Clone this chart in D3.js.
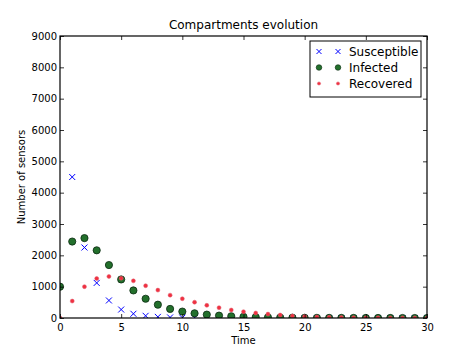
<!DOCTYPE html>
<html><head><meta charset="utf-8">
<script src="https://cdn.jsdelivr.net/npm/d3@7/dist/d3.min.js"></script>
<style>body{margin:0;background:#fff}svg{display:block}text{font-family:"DejaVu Sans",sans-serif}</style>
</head><body>
<svg id="c" width="474" height="355"></svg>
<script>
const time = d3.range(0, 31);
const susceptible = [null,4500,2250,1120,560,270,135,70,35,18,9,5,2,1,1,0,0,0,0,0,0,0,0,0,0,0,0,0,0,0,0];
const infected = [1000,2440,2550,2160,1690,1230,880,615,425,290,205,150,108,76,56,40,28,20,14,10,7,5,4,3,2,1,1,1,0,0,0];
const recovered = [0,540,1000,1260,1325,1270,1185,1030,890,730,615,505,405,330,255,200,160,125,95,65,45,32,22,15,10,7,5,3,2,1,1];
const xTicks = [0,5,10,15,20,25,30];
const yTicks = [0,1000,2000,3000,4000,5000,6000,7000,8000,9000];
const legendLabels = ["Susceptible","Infected","Recovered"];

const svg = d3.select("#c");
const L=60, R=427, T=36, B=318;
const x = d3.scaleLinear().domain([0,30]).range([L,R]);
const y = d3.scaleLinear().domain([0,9000]).range([B,T]);

svg.append("defs").append("clipPath").attr("id","clip")
  .append("rect").attr("x",L).attr("y",T).attr("width",R-L).attr("height",B-T);

const g = svg.append("g").attr("clip-path","url(#clip)");

function cross(sel, size){
  sel.append("path").attr("d",`M${-size},${-size}L${size},${size}M${-size},${size}L${size},${-size}`)
    .attr("stroke","#0000ff").attr("stroke-width",1).attr("fill","none");
}
// Susceptible
time.forEach((t,i)=>{
  if (susceptible[i]==null) return;
  const m = g.append("g").attr("transform",`translate(${x(t)},${y(susceptible[i])})`);
  cross(m,3);
});
// Infected
g.selectAll("circle.i").data(time).enter().append("circle")
  .attr("cx",t=>x(t)).attr("cy",(t,i)=>y(infected[i])).attr("r",3.6)
  .attr("fill","#23702c").attr("stroke","#0a2a10").attr("stroke-width",0.8);
// Recovered
g.selectAll("circle.r").data(time).enter().append("circle")
  .attr("cx",t=>x(t)).attr("cy",(t,i)=>y(recovered[i])).attr("r",2)
  .attr("fill","#f03040").attr("stroke","#e06070").attr("stroke-width",0.5);

// frame
svg.append("rect").attr("x",L).attr("y",T).attr("width",R-L).attr("height",B-T)
  .attr("fill","none").attr("stroke","#000").attr("stroke-width",1.2);

// axes with inward ticks
const xb = svg.append("g").attr("transform",`translate(0,${B})`)
  .call(d3.axisBottom(x).tickValues(xTicks).tickSize(-4).tickPadding(6).tickFormat(d3.format("d")));
const xt = svg.append("g").attr("transform",`translate(0,${T})`)
  .call(d3.axisTop(x).tickValues(xTicks).tickSize(-4).tickFormat(""));
const yl = svg.append("g").attr("transform",`translate(${L},0)`)
  .call(d3.axisLeft(y).tickValues(yTicks).tickSize(-4).tickPadding(3).tickFormat(d3.format("d")));
const yr = svg.append("g").attr("transform",`translate(${R},0)`)
  .call(d3.axisRight(y).tickValues(yTicks).tickSize(-4).tickFormat(""));
[xb,xt,yl,yr].forEach(a=>{
  a.select(".domain").remove();
  a.selectAll("line").attr("stroke","#000").attr("stroke-width",0.8);
  a.selectAll("text").attr("fill","#000").style("font-size","10px").style("font-family","DejaVu Sans");
});

// labels
svg.append("text").attr("x",(L+R)/2).attr("y",29).attr("text-anchor","middle")
  .style("font-size","12px").text("Compartments evolution");
svg.append("text").attr("x",(L+R)/2).attr("y",344).attr("text-anchor","middle")
  .style("font-size","10px").text("Time");
svg.append("text").attr("transform",`translate(25,${(T+B)/2}) rotate(-90)`).attr("text-anchor","middle")
  .style("font-size","10px").text("Number of sensors");

// legend
const lg = svg.append("g");
lg.append("rect").attr("x",310).attr("y",41).attr("width",111).attr("height",56)
  .attr("fill","#fff").attr("stroke","#000").attr("stroke-width",1);
const rowsY = [51.5,67.5,83.5];
[319,338].forEach(mx=>{
  cross(lg.append("g").attr("transform",`translate(${mx},${rowsY[0]})`),2.5);
  lg.append("circle").attr("cx",mx).attr("cy",rowsY[1]).attr("r",2.8)
    .attr("fill","#23702c").attr("stroke","#0a2a10").attr("stroke-width",0.6);
  lg.append("circle").attr("cx",mx).attr("cy",rowsY[2]).attr("r",1.6)
    .attr("fill","#f03040").attr("stroke","#e06070").attr("stroke-width",0.5);
});
legendLabels.forEach((s,i)=>{
  lg.append("text").attr("x",349).attr("y",rowsY[i]+4.3).style("font-size","12px").text(s);
});
</script>
</body></html>
